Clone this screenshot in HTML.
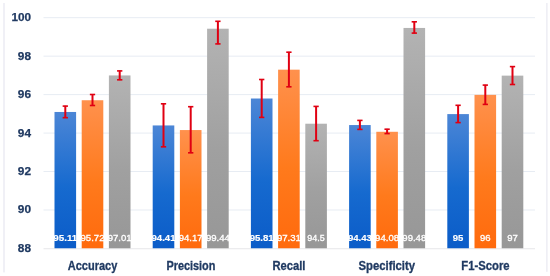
<!DOCTYPE html>
<html><head><meta charset="utf-8"><title>Chart</title>
<style>
html,body{margin:0;padding:0;background:#fff;}
svg{display:block;font-family:"Liberation Sans",sans-serif;}
</style></head><body>
<svg width="550" height="276" viewBox="0 0 550 276">
<defs>
<linearGradient id="gb" x1="0" y1="0" x2="0" y2="1"><stop offset="0" stop-color="#4C86D6"/><stop offset="0.55" stop-color="#166ACF"/><stop offset="1" stop-color="#0B5CC8"/></linearGradient>
<linearGradient id="go" x1="0" y1="0" x2="0" y2="1"><stop offset="0" stop-color="#FF914D"/><stop offset="0.55" stop-color="#FF7A1C"/><stop offset="1" stop-color="#FF6A0D"/></linearGradient>
<linearGradient id="gg" x1="0" y1="0" x2="0" y2="1"><stop offset="0" stop-color="#B3B3B3"/><stop offset="0.55" stop-color="#A0A0A0"/><stop offset="1" stop-color="#979797"/></linearGradient>
</defs>
<rect width="550" height="276" fill="#fff"/>
<rect x="3.1" y="3" width="1.8" height="269.4" fill="#EFEFF5"/>
<rect x="546" y="3" width="1.7" height="268.8" fill="#EFEFF5"/>

<rect x="43.5" y="17.19" width="491.5" height="1" fill="#E7ECF3"/>
<rect x="43.5" y="55.65" width="491.5" height="1" fill="#E7ECF3"/>
<rect x="43.5" y="94.11" width="491.5" height="1" fill="#E7ECF3"/>
<rect x="43.5" y="132.57" width="491.5" height="1" fill="#E7ECF3"/>
<rect x="43.5" y="171.03" width="491.5" height="1" fill="#E7ECF3"/>
<rect x="43.5" y="209.49" width="491.5" height="1" fill="#E7ECF3"/>
<rect x="43.5" y="248.25" width="491.5" height="1" fill="#E6E6E9"/>
<text x="31" y="21.14" text-anchor="end" font-size="11.8" font-weight="700" fill="#203A62" stroke="#203A62" stroke-width="0.25" textLength="19.6" lengthAdjust="spacingAndGlyphs">100</text>
<text x="31" y="59.60" text-anchor="end" font-size="11.8" font-weight="700" fill="#203A62" stroke="#203A62" stroke-width="0.25" textLength="13.2" lengthAdjust="spacingAndGlyphs">98</text>
<text x="31" y="98.06" text-anchor="end" font-size="11.8" font-weight="700" fill="#203A62" stroke="#203A62" stroke-width="0.25" textLength="13.2" lengthAdjust="spacingAndGlyphs">96</text>
<text x="31" y="136.52" text-anchor="end" font-size="11.8" font-weight="700" fill="#203A62" stroke="#203A62" stroke-width="0.25" textLength="13.2" lengthAdjust="spacingAndGlyphs">94</text>
<text x="31" y="174.98" text-anchor="end" font-size="11.8" font-weight="700" fill="#203A62" stroke="#203A62" stroke-width="0.25" textLength="13.2" lengthAdjust="spacingAndGlyphs">92</text>
<text x="31" y="213.44" text-anchor="end" font-size="11.8" font-weight="700" fill="#203A62" stroke="#203A62" stroke-width="0.25" textLength="13.2" lengthAdjust="spacingAndGlyphs">90</text>
<text x="31" y="251.90" text-anchor="end" font-size="11.8" font-weight="700" fill="#203A62" stroke="#203A62" stroke-width="0.25" textLength="13.2" lengthAdjust="spacingAndGlyphs">88</text>
<rect x="54.50" y="111.97" width="21.6" height="136.28" fill="url(#gb)"/>
<rect x="81.70" y="100.24" width="21.6" height="148.01" fill="url(#go)"/>
<rect x="108.90" y="75.44" width="21.6" height="172.81" fill="url(#gg)"/>
<text x="65.30" y="241.3" text-anchor="middle" font-size="9" font-weight="700" fill="#fff" stroke="#fff" stroke-width="0.15" textLength="24" lengthAdjust="spacingAndGlyphs">95.11</text>
<text x="92.50" y="241.3" text-anchor="middle" font-size="9" font-weight="400" fill="#fff" stroke="#fff" stroke-width="0.3" textLength="24" lengthAdjust="spacingAndGlyphs">95.72</text>
<text x="119.70" y="241.3" text-anchor="middle" font-size="9" font-weight="400" fill="#fff" stroke="#fff" stroke-width="0.3" textLength="24" lengthAdjust="spacingAndGlyphs">97.01</text>
<path d="M65.30 105.80V118.00" stroke="#E00012" stroke-width="2.0" fill="none"/>
<rect x="62.65" y="105.30" width="5.3" height="1.6" fill="#E00012"/>
<rect x="62.65" y="116.90" width="5.3" height="1.6" fill="#E00012"/>
<path d="M92.50 94.20V105.80" stroke="#E00012" stroke-width="2.0" fill="none"/>
<rect x="89.85" y="93.70" width="5.3" height="1.6" fill="#E00012"/>
<rect x="89.85" y="104.70" width="5.3" height="1.6" fill="#E00012"/>
<path d="M119.70 70.60V80.10" stroke="#E00012" stroke-width="2.0" fill="none"/>
<rect x="117.05" y="70.10" width="5.3" height="1.6" fill="#E00012"/>
<rect x="117.05" y="79.00" width="5.3" height="1.6" fill="#E00012"/>
<rect x="152.70" y="125.44" width="21.6" height="122.81" fill="url(#gb)"/>
<rect x="179.90" y="130.05" width="21.6" height="118.20" fill="url(#go)"/>
<rect x="207.10" y="28.71" width="21.6" height="219.54" fill="url(#gg)"/>
<text x="163.50" y="241.3" text-anchor="middle" font-size="9" font-weight="700" fill="#fff" stroke="#fff" stroke-width="0.15" textLength="24" lengthAdjust="spacingAndGlyphs">94.41</text>
<text x="190.70" y="241.3" text-anchor="middle" font-size="9" font-weight="400" fill="#fff" stroke="#fff" stroke-width="0.3" textLength="24" lengthAdjust="spacingAndGlyphs">94.17</text>
<text x="217.90" y="241.3" text-anchor="middle" font-size="9" font-weight="400" fill="#fff" stroke="#fff" stroke-width="0.3" textLength="24" lengthAdjust="spacingAndGlyphs">99.44</text>
<path d="M163.50 103.50V147.10" stroke="#E00012" stroke-width="2.0" fill="none"/>
<rect x="160.85" y="103.00" width="5.3" height="1.6" fill="#E00012"/>
<rect x="160.85" y="146.00" width="5.3" height="1.6" fill="#E00012"/>
<path d="M190.70 106.40V153.10" stroke="#E00012" stroke-width="2.0" fill="none"/>
<rect x="188.05" y="105.90" width="5.3" height="1.6" fill="#E00012"/>
<rect x="188.05" y="152.00" width="5.3" height="1.6" fill="#E00012"/>
<path d="M217.90 21.00V44.20" stroke="#E00012" stroke-width="2.0" fill="none"/>
<rect x="215.25" y="20.50" width="5.3" height="1.6" fill="#E00012"/>
<rect x="215.25" y="43.10" width="5.3" height="1.6" fill="#E00012"/>
<rect x="250.90" y="98.51" width="21.6" height="149.74" fill="url(#gb)"/>
<rect x="278.10" y="69.67" width="21.6" height="178.58" fill="url(#go)"/>
<rect x="305.30" y="123.71" width="21.6" height="124.54" fill="url(#gg)"/>
<text x="261.70" y="241.3" text-anchor="middle" font-size="9" font-weight="700" fill="#fff" stroke="#fff" stroke-width="0.15" textLength="24" lengthAdjust="spacingAndGlyphs">95.81</text>
<text x="288.90" y="241.3" text-anchor="middle" font-size="9" font-weight="400" fill="#fff" stroke="#fff" stroke-width="0.3" textLength="24" lengthAdjust="spacingAndGlyphs">97.31</text>
<text x="316.10" y="241.3" text-anchor="middle" font-size="9" font-weight="400" fill="#fff" stroke="#fff" stroke-width="0.3" textLength="17.5" lengthAdjust="spacingAndGlyphs">94.5</text>
<path d="M261.70 79.20V117.70" stroke="#E00012" stroke-width="2.0" fill="none"/>
<rect x="259.05" y="78.70" width="5.3" height="1.6" fill="#E00012"/>
<rect x="259.05" y="116.60" width="5.3" height="1.6" fill="#E00012"/>
<path d="M288.90 51.90V87.10" stroke="#E00012" stroke-width="2.0" fill="none"/>
<rect x="286.25" y="51.40" width="5.3" height="1.6" fill="#E00012"/>
<rect x="286.25" y="86.00" width="5.3" height="1.6" fill="#E00012"/>
<path d="M316.10 106.10V141.00" stroke="#E00012" stroke-width="2.0" fill="none"/>
<rect x="313.45" y="105.60" width="5.3" height="1.6" fill="#E00012"/>
<rect x="313.45" y="139.90" width="5.3" height="1.6" fill="#E00012"/>
<rect x="349.10" y="125.05" width="21.6" height="123.20" fill="url(#gb)"/>
<rect x="376.30" y="131.78" width="21.6" height="116.47" fill="url(#go)"/>
<rect x="403.50" y="27.94" width="21.6" height="220.31" fill="url(#gg)"/>
<text x="359.90" y="241.3" text-anchor="middle" font-size="9" font-weight="700" fill="#fff" stroke="#fff" stroke-width="0.15" textLength="24" lengthAdjust="spacingAndGlyphs">94.43</text>
<text x="387.10" y="241.3" text-anchor="middle" font-size="9" font-weight="400" fill="#fff" stroke="#fff" stroke-width="0.3" textLength="24" lengthAdjust="spacingAndGlyphs">94.08</text>
<text x="414.30" y="241.3" text-anchor="middle" font-size="9" font-weight="400" fill="#fff" stroke="#fff" stroke-width="0.3" textLength="24" lengthAdjust="spacingAndGlyphs">99.48</text>
<path d="M359.90 120.10V129.70" stroke="#E00012" stroke-width="2.0" fill="none"/>
<rect x="357.25" y="119.60" width="5.3" height="1.6" fill="#E00012"/>
<rect x="357.25" y="128.60" width="5.3" height="1.6" fill="#E00012"/>
<path d="M387.10 128.90V133.90" stroke="#E00012" stroke-width="2.0" fill="none"/>
<rect x="384.45" y="128.40" width="5.3" height="1.6" fill="#E00012"/>
<rect x="384.45" y="132.80" width="5.3" height="1.6" fill="#E00012"/>
<path d="M414.30 21.50V33.40" stroke="#E00012" stroke-width="2.0" fill="none"/>
<rect x="411.65" y="21.00" width="5.3" height="1.6" fill="#E00012"/>
<rect x="411.65" y="32.30" width="5.3" height="1.6" fill="#E00012"/>
<rect x="447.30" y="114.09" width="21.6" height="134.16" fill="url(#gb)"/>
<rect x="474.50" y="94.86" width="21.6" height="153.39" fill="url(#go)"/>
<rect x="501.70" y="75.63" width="21.6" height="172.62" fill="url(#gg)"/>
<text x="458.10" y="241.3" text-anchor="middle" font-size="9" font-weight="700" fill="#fff" stroke="#fff" stroke-width="0.15" textLength="10.6" lengthAdjust="spacingAndGlyphs">95</text>
<text x="485.30" y="241.3" text-anchor="middle" font-size="9" font-weight="400" fill="#fff" stroke="#fff" stroke-width="0.3" textLength="10.6" lengthAdjust="spacingAndGlyphs">96</text>
<text x="512.50" y="241.3" text-anchor="middle" font-size="9" font-weight="400" fill="#fff" stroke="#fff" stroke-width="0.3" textLength="10.6" lengthAdjust="spacingAndGlyphs">97</text>
<path d="M458.10 105.00V122.90" stroke="#E00012" stroke-width="2.0" fill="none"/>
<rect x="455.45" y="104.50" width="5.3" height="1.6" fill="#E00012"/>
<rect x="455.45" y="121.80" width="5.3" height="1.6" fill="#E00012"/>
<path d="M485.30 84.80V104.70" stroke="#E00012" stroke-width="2.0" fill="none"/>
<rect x="482.65" y="84.30" width="5.3" height="1.6" fill="#E00012"/>
<rect x="482.65" y="103.60" width="5.3" height="1.6" fill="#E00012"/>
<path d="M512.50 66.30V84.80" stroke="#E00012" stroke-width="2.0" fill="none"/>
<rect x="509.85" y="65.80" width="5.3" height="1.6" fill="#E00012"/>
<rect x="509.85" y="83.70" width="5.3" height="1.6" fill="#E00012"/>
<text x="92.50" y="269.6" text-anchor="middle" font-size="12" font-weight="700" fill="#203A62" stroke="#203A62" stroke-width="0.3" textLength="49.5" lengthAdjust="spacingAndGlyphs">Accuracy</text>
<text x="190.90" y="269.6" text-anchor="middle" font-size="12" font-weight="700" fill="#203A62" stroke="#203A62" stroke-width="0.3" textLength="49" lengthAdjust="spacingAndGlyphs">Precision</text>
<text x="288.90" y="269.6" text-anchor="middle" font-size="12" font-weight="700" fill="#203A62" stroke="#203A62" stroke-width="0.3" textLength="33" lengthAdjust="spacingAndGlyphs">Recall</text>
<text x="386.80" y="269.6" text-anchor="middle" font-size="12" font-weight="700" fill="#203A62" stroke="#203A62" stroke-width="0.3" textLength="56.5" lengthAdjust="spacingAndGlyphs">Specificity</text>
<text x="485.50" y="269.6" text-anchor="middle" font-size="12" font-weight="700" fill="#203A62" stroke="#203A62" stroke-width="0.3" textLength="48.3" lengthAdjust="spacingAndGlyphs">F1-Score</text>
</svg>
</body></html>
